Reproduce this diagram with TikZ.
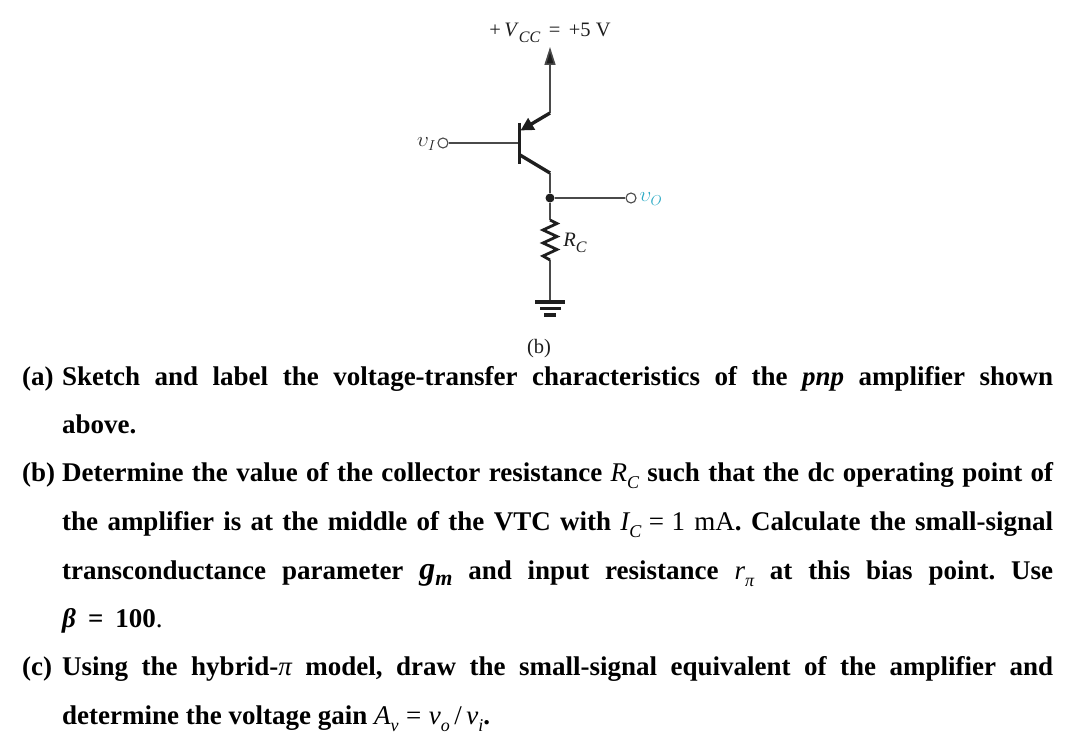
\documentclass[tikz,border=0pt]{standalone}
\usepackage{fontspec}
\setmainfont{Liberation Serif}
\usetikzlibrary{arrows.meta}
\frenchspacing
\definecolor{wirec}{HTML}{4A4A4A}
\definecolor{inkc}{HTML}{1E1E1E}
\definecolor{voc}{HTML}{2AA9C4}
\newcommand{\lowsub}[1]{\raisebox{-0.28em}{\fontsize{18}{18}\selectfont\mdseries\itshape #1}}
\newcommand{\mathvar}[2]{{\mdseries\itshape #1}\lowsub{#2}}
\newcommand{\eqsign}{{\mdseries\;=\;}}
\tikzset{
  x=1pt,y=-1pt,
  wire/.style={draw=wirec,line width=1.6pt},
  thick bar/.style={draw=inkc,line width=3.4pt},
  ground bar/.style={draw=inkc,line width=3.6pt},
  terminal/.style={circle,draw=wirec,fill=white,line width=1.1pt,minimum size=10pt,inner sep=0pt},
  junction/.style={circle,fill=inkc,minimum size=9pt,inner sep=0pt},
  label text/.style={inner sep=0pt,text=inkc,font=\fontsize{20.5}{22}\selectfont},
  textline/.style={anchor=base west,inner sep=0pt,text=black,font=\fontsize{27}{30}\selectfont\bfseries},
}
\begin{document}
\begin{tikzpicture}
\useasboundingbox (0,0) rectangle (1068,741);
% circuit anchors
\coordinate (supply) at (550,47);
\coordinate (eTop) at (550,113);
\coordinate (eBase) at (520.5,130.5);
\coordinate (barTop) at (519.5,123);
\coordinate (barBot) at (519.5,164);
\coordinate (bJoin) at (519.5,143);
\coordinate (cBase) at (520,155);
\coordinate (cEnd) at (550,173);
\coordinate (rTop) at (550,220);
\coordinate (rBot) at (550,260);
\coordinate (gnd) at (550,302);
\node[junction] (nout) at (550,198) {};
\node[terminal] (vin) at (443,143) {};
\node[terminal] (vout) at (631,198) {};
% wires
\draw[wire] (vin) -- (bJoin);
\draw[wire] (nout) -- (vout);
\draw[wire] (cEnd) -- (nout);
\draw[wire] (nout) -- (rTop);
\draw[wire] (rBot) -- (gnd);
\draw[wire,-{Triangle[length=18pt,width=11pt,fill=inkc]}] (eTop) -- (supply);
% transistor
\draw[thick bar,line width=3.6pt] (barTop) -- (barBot);
\draw[thick bar] (cBase) -- (cEnd);
\draw[thick bar,-{Triangle[length=13pt,width=13pt,fill=inkc]}] (eTop) -- (eBase);
% resistor
\draw[draw=inkc,line width=2.8pt,line join=miter] (rTop) -- ++(7,3.5) -- ++(-14,6.5) -- ++(14,6.5) -- ++(-14,6.5) -- ++(14,6.5) -- ++(-14,6.5) -- (rBot);
% ground
\draw[ground bar] (535,302) -- (565,302);
\draw[ground bar] (540,308.5) -- (561,308.5);
\draw[ground bar] (544,315) -- (556,315);
% circuit labels
\node[label text] (vcc) at (550,33) {+\,\textit{V}\raisebox{-0.3em}{\fontsize{16}{16}\selectfont\itshape CC}\, = \,+5 V};
\node[label text,font=\fontsize{20.5}{22}\selectfont] (vil) at (426.5,144) {$\upsilon_{I}$};
\node[label text,text=voc,font=\fontsize{20.5}{22}\selectfont] (vol) at (651,199) {$\upsilon_{O}$};
\node[label text] (rc) at (575,243) {\textit{R}\raisebox{-0.3em}{\fontsize{16}{16}\selectfont\itshape C}};
\node[label text] (capb) at (539,349) {(b)};
% problem text
\node[textline] (a0) at (22,385) {(a)};
\node[textline] (a1) at (62,385) {\makebox[991pt][s]{Sketch and label the voltage-transfer characteristics of the \textit{pnp} amplifier shown}};
\node[textline] (a2) at (62,433) {above.};
\node[textline] (b0) at (22,481) {(b)};
\node[textline] (b1) at (62,481) {\makebox[991pt][s]{Determine the value of the collector resistance \mathvar{R}{C} such that the dc operating point of}};
\node[textline] (b2) at (62,530) {\makebox[991pt][s]{the amplifier is at the middle of the VTC with \mathvar{I}{C}\eqsign{\mdseries 1 mA}. Calculate the small-signal}};
\node[textline] (b3) at (62,579) {\makebox[991pt][s]{transconductance parameter {\fontsize{32}{32}\selectfont\textit{g}}\raisebox{-0.25em}{\fontsize{22}{22}\selectfont\itshape m} and input resistance \mathvar{r}{π} at this bias point. Use}};
\node[textline] (b4) at (62,627) {\textit{β}\,\;=\,\;100{\mdseries .}};
\node[textline] (c0) at (22,675) {(c)};
\node[textline] (c1) at (62,675) {\makebox[991pt][s]{Using the hybrid-{\mdseries\itshape π} model, draw the small-signal equivalent of the amplifier and}};
\node[textline] (c2) at (62,724) {determine the voltage gain \mathvar{A}{v}\eqsign{\mdseries\itshape v}\lowsub{o}{\mdseries\,/\,}{\mdseries\itshape v}\lowsub{i}.};
\end{tikzpicture}
\end{document}
